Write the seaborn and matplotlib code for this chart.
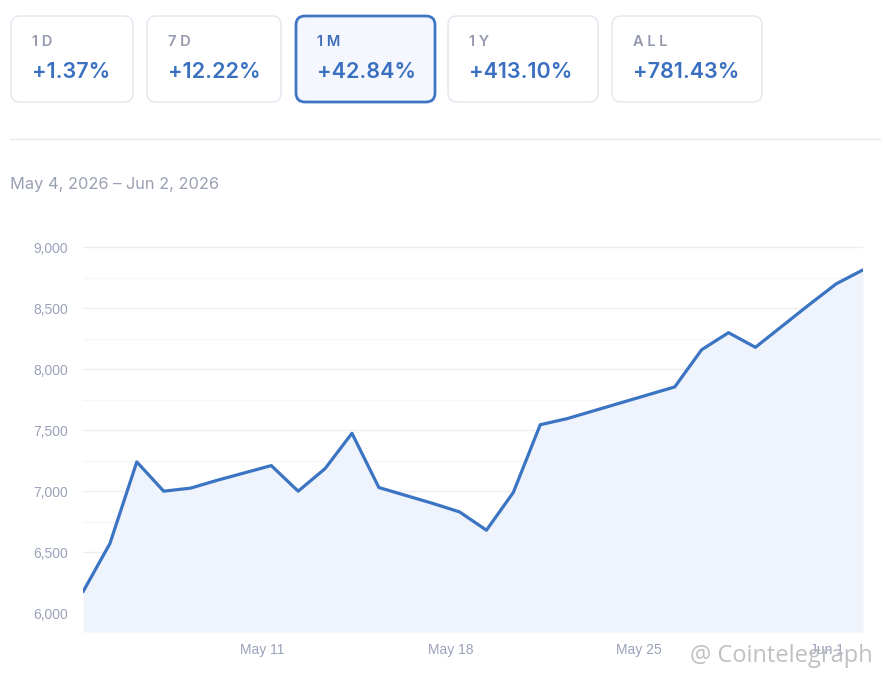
import pandas as pd
import matplotlib
matplotlib.use("Agg")
import matplotlib.pyplot as plt
from matplotlib.patches import FancyBboxPatch
from matplotlib.ticker import MultipleLocator, FuncFormatter
import seaborn as sns

# Period cards shown above the chart
periods = ["1D", "7D", "1M", "1Y", "ALL"]
changes = ["+1.37%", "+12.22%", "+42.84%", "+413.10%", "+781.43%"]
selected = "1M"
range_label = "May 4, 2026 \u2013 Jun 2, 2026"

# Daily closes, May 4 - Jun 2 2026
dates = pd.date_range("2026-05-04 08:00", periods=30, freq="D")
values = [6175, 6570, 7240, 7000, 7025, 7090, 7150, 7210, 7000, 7185,
          7475, 7030, 6965, 6900, 6830, 6680, 6990, 7545, 7595, 7660,
          7725, 7790, 7855, 8160, 8300, 8180, 8355, 8530, 8700, 8815]

tick_dates = pd.to_datetime(["2026-05-11", "2026-05-18", "2026-05-25", "2026-06-01"])
tick_labels = ["May 11", "May 18", "May 25", "Jun 1"]

df = pd.DataFrame({"date": dates, "value": values})

sns.set_theme(style="white")
plt.rcParams["font.family"] = ["Inter", "DejaVu Sans"]

W, H = 883, 681
fig = plt.figure(figsize=(W / 100, H / 100), dpi=100)
fig.patch.set_facecolor("white")

# Overlay axes in pixel coordinates for the cards / header
ov = fig.add_axes([0, 0, 1, 1], zorder=0)
ov.set_xlim(0, W)
ov.set_ylim(H, 0)
ov.axis("off")
ov.patch.set_visible(False)

card_left = [11, 147, 296, 448, 612]
card_width = [122, 134, 139, 150, 150]
for left, width, per, chg in zip(card_left, card_width, periods, changes):
    is_sel = per == selected
    box = FancyBboxPatch((left, 16), width, 86,
                         boxstyle="round,pad=0,rounding_size=9",
                         facecolor="#f4f8fe" if is_sel else "white",
                         edgecolor="#3f76c4" if is_sel else "#e3e6ee",
                         linewidth=2.0 if is_sel else 1.0)
    ov.add_patch(box)
    ov.text(left + 21, 42, " ".join(per), fontsize=10.5, fontweight="semibold",
            color="#3f6fb8" if is_sel else "#9498ae",
            ha="left", va="center")
    ov.text(left + 21, 72, chg, fontsize=15.5, fontweight="semibold",
            color="#3a70bf", ha="left", va="center")

ov.plot([10, 880], [139, 139], color="#e6e8ee", linewidth=1)
ov.text(10, 184, range_label, fontsize=11.8, color="#9aa0b3",
        ha="left", va="center")

# Main chart
ymin, ymax = 5845, 9060
ax = fig.add_axes([83 / W, (H - 632) / H, (863 - 83) / W, (632 - 240) / H], zorder=1)
ax.patch.set_visible(False)

ax.fill_between(df["date"], df["value"], ymin, color="#eff3fb", linewidth=0)
sns.lineplot(data=df, x="date", y="value", ax=ax, color="#3a74c2",
             linewidth=2.3, solid_joinstyle="round", solid_capstyle="round")

ax.set_xlim(dates[0], dates[-1])
ax.set_ylim(ymin, ymax)
ax.yaxis.set_major_locator(MultipleLocator(500))
ax.yaxis.set_minor_locator(MultipleLocator(250))
ax.yaxis.set_major_formatter(FuncFormatter(lambda v, p: f"{v:,.0f}"))
ax.grid(which="major", axis="y", color="#eceef4", linewidth=1)
ax.grid(which="minor", axis="y", color="#f5f6f9", linewidth=1)
ax.grid(False, axis="x")
ax.set_axisbelow(True)

ax.set_xticks(tick_dates)
ax.set_xticklabels(tick_labels)
ax.set_xlabel("")
ax.set_ylabel("")
for s in ax.spines.values():
    s.set_visible(False)
ax.tick_params(axis="both", which="both", length=0, labelsize=10,
               labelcolor="#9aa2ba")
ax.tick_params(axis="y", pad=11)
ax.tick_params(axis="x", pad=8)
for lab in ax.get_xticklabels() + ax.get_yticklabels():
    lab.set_family(["Liberation Sans", "DejaVu Sans"])

# Watermark
fig.text(873 / W, 1 - 656 / H, "@ Cointelegraph", fontsize=17,
         family=["Open Sans", "DejaVu Sans"], color="#b9b9bd", alpha=0.9,
         ha="right", va="center", zorder=5)

fig.savefig("out.png", dpi=100)
